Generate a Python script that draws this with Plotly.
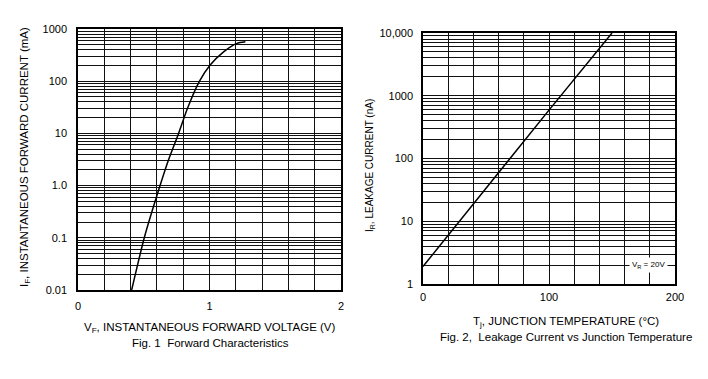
import plotly.graph_objects as go

# Fig. 1 forward characteristics
vf_volts = [0.408, 0.504, 0.624, 0.690, 0.765, 0.832, 0.924, 1.005, 1.107, 1.209, 1.273]
if_ma = [0.01, 0.1, 1.0, 3.2, 10, 30, 100, 204, 366, 531, 570]

# Fig. 2 leakage current vs junction temperature
tj_c = [0, 40, 100, 150]
ir_na = [1.9, 19, 590, 10000]

fig1_yticks = [0.01, 0.1, 1, 10, 100, 1000]
fig1_ylabels = ["0.01", "0.1", "1.0", "10", "100", "1000"]
fig2_yticks = [1, 10, 100, 1000, 10000]
fig2_ylabels = ["1", "10", "100", "1000", "10,000"]
fig1_xticks = [0, 1, 2]
fig2_xticks = [0, 100, 200]


def log_grid(decades, labels):
    vals, texts = [], []
    for d, lab in zip(decades, labels):
        for m in range(1, 10):
            vals.append(d * m)
            texts.append(lab if m == 1 else "")
    return vals, texts


def lin_grid(start, stop, step, labelled):
    vals, texts = [], []
    n = int(round((stop - start) / step))
    for i in range(n + 1):
        v = round(start + i * step, 6)
        vals.append(v)
        texts.append(str(int(v)) if any(abs(v - l) < 1e-9 for l in labelled) else "")
    return vals, texts


# page body has an 8px default margin: lay the figure out in window pixels
W, H, OFF = 700, 371, 8


def px(x):
    return (x - OFF) / W


def py(y):
    return 1 - (y - OFF) / H


FONT = "Arial, Liberation Sans, sans-serif"

fig = go.Figure()
fig.add_trace(go.Scatter(x=vf_volts, y=if_ma, mode="lines",
                         line=dict(color="black", width=1.5, shape="spline", smoothing=0.6),
                         xaxis="x", yaxis="y", showlegend=False, hoverinfo="skip"))
fig.add_trace(go.Scatter(x=tj_c, y=ir_na, mode="lines", line=dict(color="black", width=1.5),
                         xaxis="x2", yaxis="y2", showlegend=False, hoverinfo="skip"))

y1v, y1t = log_grid(fig1_yticks[:-1], fig1_ylabels[:-1])
y1v.append(fig1_yticks[-1]); y1t.append(fig1_ylabels[-1])
y2v, y2t = log_grid(fig2_yticks[:-1], fig2_ylabels[:-1])
y2v.append(fig2_yticks[-1]); y2t.append(fig2_ylabels[-1])
x1v, x1t = lin_grid(0, 2, 0.2, fig1_xticks)
x2v, x2t = lin_grid(0, 200, 20, fig2_xticks)

common = dict(showgrid=True, gridcolor="#111", gridwidth=1, showline=True, linecolor="black", linewidth=1.5,
              mirror=True, ticks="", zeroline=False, automargin=False,
              tickfont=dict(family=FONT, size=11, color="black"), tickmode="array")

fig.update_layout(
    width=W, height=H, margin=dict(l=0, r=0, t=0, b=0, autoexpand=False),
    paper_bgcolor="white", plot_bgcolor="white",
    xaxis=dict(domain=[px(78), px(341)], range=[0, 2], tickvals=x1v, ticktext=x1t, anchor="y",
               ticklabelstandoff=5, **common),
    yaxis=dict(domain=[py(290), py(29)], type="log", range=[-2, 3], tickvals=y1v, ticktext=y1t,
               anchor="x", ticklabelstandoff=7, **common),
    xaxis2=dict(domain=[px(423), px(675)], range=[0, 200], tickvals=x2v, ticktext=x2t, anchor="y2",
                ticklabelstandoff=2, **common),
    yaxis2=dict(domain=[py(284), py(33)], type="log", range=[0, 4], tickvals=y2v, ticktext=y2t,
                anchor="x2", ticklabelstandoff=6, **common),
)

ann = [
    dict(text="I<sub>F</sub>, INSTANTANEOUS FORWARD CURRENT (mA)", x=25, y=157, textangle=-90, size=11.5),
    dict(text="I<sub>R</sub>, LEAKAGE CURRENT (nA)", x=370, y=166, textangle=-90, size=10),
    dict(text="V<sub>F</sub>, INSTANTANEOUS FORWARD VOLTAGE (V)", x=210, y=328, textangle=0, size=11.5),
    dict(text="Fig. 1  Forward Characteristics", x=210, y=343, textangle=0, size=11.5),
    dict(text="T<sub>j</sub>, JUNCTION TEMPERATURE (°C)", x=566, y=322, textangle=0, size=11.5),
    dict(text="Fig. 2,  Leakage Current vs Junction Temperature", x=566, y=337, textangle=0, size=11.5),
]
for a in ann:
    fig.add_annotation(text=a["text"], x=px(a["x"]), y=py(a["y"]), xref="paper", yref="paper",
                       showarrow=False, textangle=a["textangle"], xanchor="center", yanchor="middle",
                       font=dict(family=FONT, size=a["size"], color="black"))

fig.add_annotation(text="V<sub>R</sub> = 20V", x=179, y=0.301, xref="x2", yref="y2", showarrow=False,
                   bgcolor="white", borderpad=2, font=dict(family=FONT, size=8, color="black"))

fig.write_html("out.html")
